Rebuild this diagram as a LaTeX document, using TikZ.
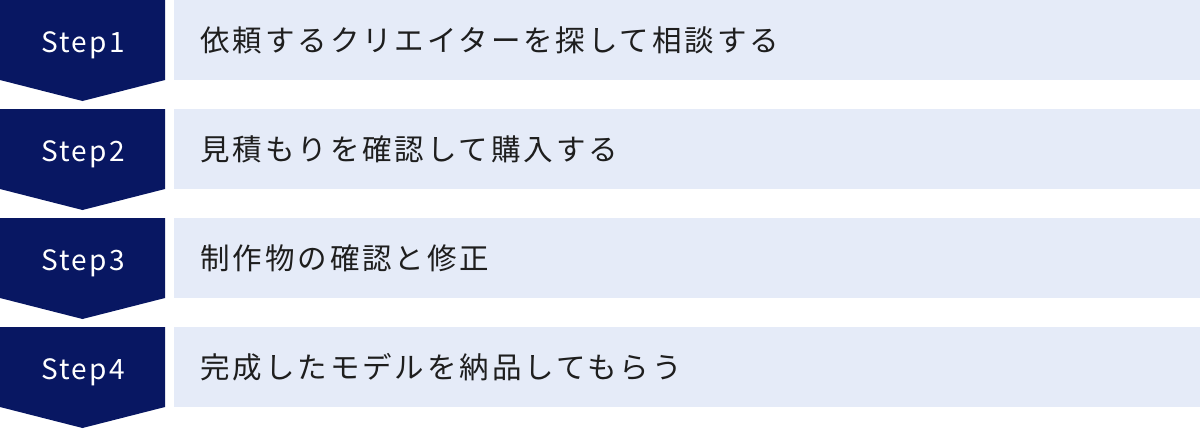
\documentclass[tikz,border=0pt]{standalone}
\usepackage{fontspec}
\setmainfont{Noto Sans CJK JP}
\newfontfamily\stepfont[LetterSpace=8]{Noto Sans CJK JP}
\newfontfamily\taskfont[LetterSpace=10]{Noto Sans CJK JP}
\usepackage{xcolor}
\definecolor{stepnavy}{RGB}{8,23,98}
\definecolor{barblue}{RGB}{229,235,248}
\definecolor{tasktext}{RGB}{30,30,30}

\begin{document}
\begin{tikzpicture}[x=1pt,y=-1pt,
  steplabel/.style={text=white,font=\stepfont\fontsize{28}{32}\selectfont,anchor=base,inner sep=0pt},
  tasklabel/.style={text=tasktext,font=\taskfont\fontsize{29.5}{34}\selectfont,anchor=west,inner sep=0pt}]
\useasboundingbox (0,0) rectangle (1200,429);
\foreach \i/\task in {1/{依頼するクリエイターを探して相談する},
                      2/{見積もりを確認して購入する},
                      3/{制作物の確認と修正},
                      4/{完成したモデルを納品してもらう}}{
  \pgfmathsetmacro\rowtop{109*(\i-1)}
  \fill[barblue] (174,\rowtop) rectangle (1200,\rowtop+80);
  \fill[stepnavy] (0,\rowtop) -- (165,\rowtop) -- (165,\rowtop+80)
    -- (82.5,\rowtop+101) -- (0,\rowtop+80) -- cycle;
  \node[steplabel] (step\i) at (83,\rowtop+52) {Step\i};
  \node[tasklabel] (task\i) at (200,\rowtop+40) {\task};
}
\end{tikzpicture}
\end{document}
